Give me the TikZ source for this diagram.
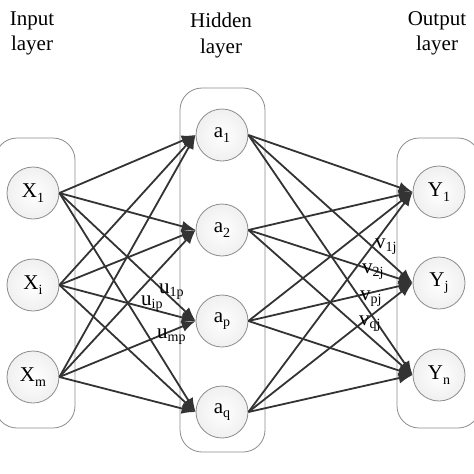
\documentclass[tikz,border=0pt]{standalone}
\usepackage{fontspec}
\setmainfont{Liberation Serif}
\usetikzlibrary{arrows.meta}
\definecolor{bordc}{HTML}{8C8C8C}
\definecolor{linec}{HTML}{333333}
\newcommand{\lsub}[1]{\raisebox{-4.5pt}{\fontsize{14}{14}\selectfont #1}}
\newcommand{\wsub}[1]{\raisebox{-3.5pt}{\fontsize{14}{14}\selectfont #1}}
\begin{document}
\begin{tikzpicture}[x=1pt,y=-1pt,
  layerbox/.style={draw=bordc,line width=0.8pt,rounded corners=22pt},
  neuron/.style={circle,draw=bordc,line width=0.8pt,minimum size=52pt,inner sep=0pt,
    inner color=white,outer color=gray!12,font=\fontsize{21}{21}\selectfont},
  conn/.style={draw=linec,line width=1.8pt,-{Latex[length=14pt,width=11pt]}},
  title/.style={font=\fontsize{21}{21}\selectfont,anchor=base,inner sep=0pt},
  wlabel/.style={font=\fontsize{21}{21}\selectfont,anchor=base west,inner sep=0pt}]
\useasboundingbox (0,0) rectangle (474,474);
% layer boxes
\draw[layerbox] (-5,138) rectangle (75,428);
\draw[layerbox] (180,88) rectangle (265,452);
\draw[layerbox] (397,138) rectangle (480,428);
% titles
\node[title] (tin1) at (32,25) {Input};
\node[title] (tin2) at (32,50) {layer};
\node[title] (thd1) at (221,27) {Hidden};
\node[title] (thd2) at (221,53) {layer};
\node[title] (tout1) at (437,25) {Output};
\node[title] (tout2) at (437,50) {layer};
% neurons
\node[neuron] (x1) at (33,193) {X\lsub{1}};
\node[neuron] (xi) at (33,285) {X\lsub{i}};
\node[neuron] (xm) at (33,377) {X\lsub{m}};
\node[neuron] (a1) at (222,135) {a\lsub{1}};
\node[neuron] (a2) at (222,230) {a\lsub{2}};
\node[neuron] (ap) at (222,321) {a\lsub{p}};
\node[neuron] (aq) at (222,412) {a\lsub{q}};
\node[neuron] (y1) at (439,192) {Y\lsub{1}};
\node[neuron] (yj) at (439,283) {Y\lsub{j}};
\node[neuron] (yn) at (439,375) {Y\lsub{n}};
% connections
\foreach \s in {x1,xi,xm}
  \foreach \t in {a1,a2,ap,aq}
    \draw[conn] (\s.east) -- (\t.west);
\foreach \s in {a1,a2,ap,aq}
  \foreach \t in {y1,yj,yn}
    \draw[conn] (\s.east) -- (\t.west);
% weight labels
\node[wlabel] (u1p) at (159,293) {u\wsub{1p}};
\node[wlabel] (uip) at (141,305) {u\wsub{ip}};
\node[wlabel] (ump) at (157,338) {u\wsub{mp}};
\node[wlabel] (v1j) at (375,248) {v\wsub{1j}};
\node[wlabel] (v2j) at (362,273) {v\wsub{2j}};
\node[wlabel] (vpj) at (360,300) {v\wsub{pj}};
\node[wlabel] (vqj) at (359,325) {v\wsub{qj}};
\end{tikzpicture}
\end{document}
